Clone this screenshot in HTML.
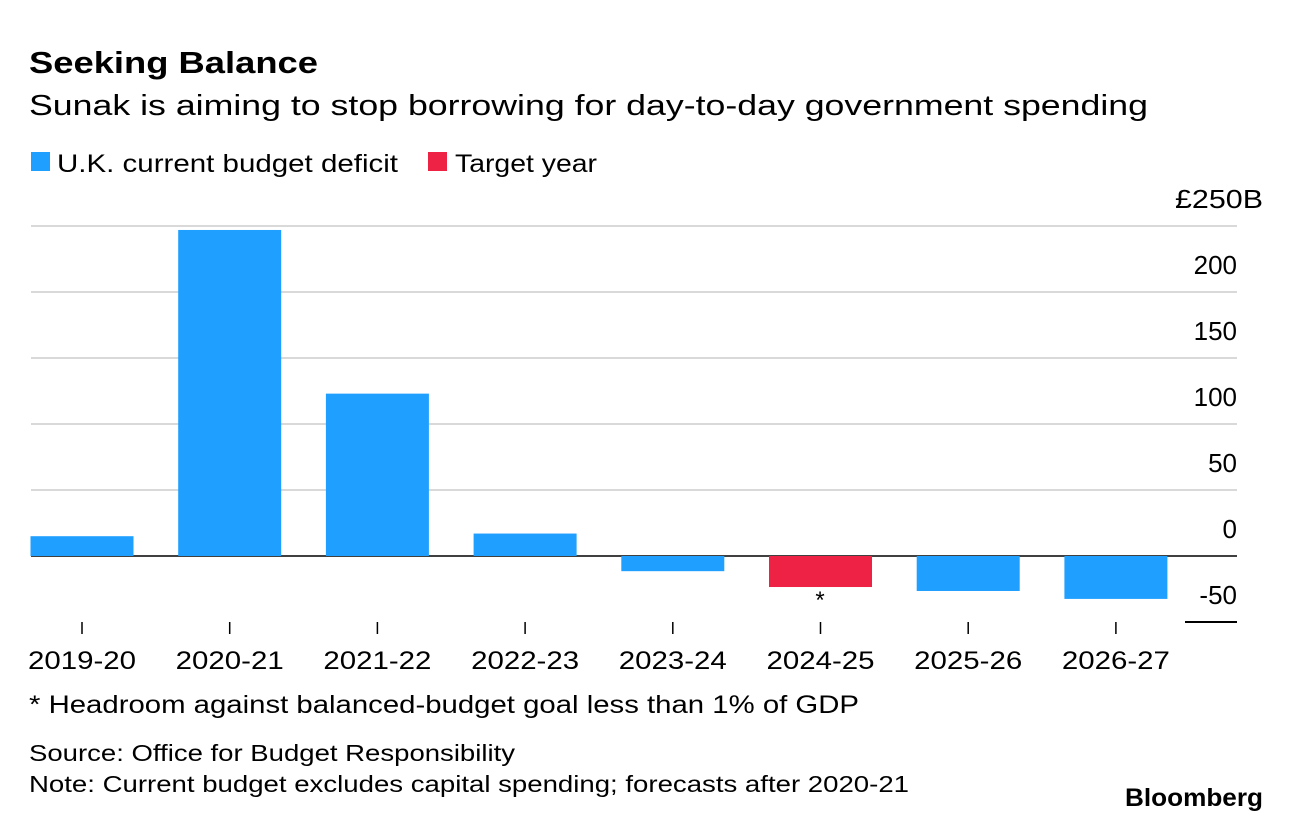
<!DOCTYPE html>
<html><head><meta charset="utf-8"><style>
body{margin:0;background:#fff;font-family:"Liberation Sans",Arial,sans-serif;}
svg text{font-family:"Liberation Sans",Arial,sans-serif;}
</style></head><body>
<svg width="1292" height="822">
<text x="29" y="73" font-size="31" font-weight="bold" fill="#000" textLength="289" lengthAdjust="spacingAndGlyphs">Seeking Balance</text>
<text x="29" y="115" font-size="29" fill="#000" textLength="1119" lengthAdjust="spacingAndGlyphs">Sunak is aiming to stop borrowing for day-to-day government spending</text>
<rect x="31" y="152" width="19" height="19" fill="#1f9fff"/>
<text x="57" y="172" font-size="25" textLength="341" lengthAdjust="spacingAndGlyphs">U.K. current budget deficit</text>
<rect x="428" y="152" width="19" height="19" fill="#ee2244"/>
<text x="455" y="172" font-size="25" textLength="142" lengthAdjust="spacingAndGlyphs">Target year</text>
<g id="grid"></g><g id="bars"></g><g id="xaxis"></g>
<text x="820" y="608" font-size="24" text-anchor="middle">*</text>
<text x="29" y="713" font-size="25" textLength="830" lengthAdjust="spacingAndGlyphs">* Headroom against balanced-budget goal less than 1% of GDP</text>
<text x="29" y="761" font-size="23" textLength="486" lengthAdjust="spacingAndGlyphs">Source: Office for Budget Responsibility</text>
<text x="29" y="792" font-size="23" textLength="880" lengthAdjust="spacingAndGlyphs">Note: Current budget excludes capital spending; forecasts after 2020-21</text>
<text x="1125" y="806" font-size="25" font-weight="bold" textLength="138" lengthAdjust="spacingAndGlyphs">Bloomberg</text>
</svg>
<script>
const categories=["2019-20","2020-21","2021-22","2022-23","2023-24","2024-25","2025-26","2026-27"];
const values=[15,247,123,17,-11.5,-23.5,-26.5,-32.5];
const targetIndex=[5];
const ticks=[250,200,150,100,50,0,-50];
const tickLabels=["£250B","200","150","100","50","0","-50"];
const NS="http://www.w3.org/2000/svg";
const y=v=>556-v*1.32;
const xc=i=>82+i*147.7;
function mk(tag,attrs,parent){const e=document.createElementNS(NS,tag);for(const k in attrs)e.setAttribute(k,attrs[k]);document.getElementById(parent).appendChild(e);return e;}
ticks.forEach((t,i)=>{
  const x1=t===-50?1185:31;
  const l=mk("line",{x1:x1,x2:1237,y1:y(t),y2:y(t),stroke:t===0?"#000":(t===-50?"#000":"#d9d9d9"),"stroke-width":t===0?1.5:2},"grid");
  
  
  const a={x:i===0?1263:1237,y:y(t)-18,"font-size":26,"text-anchor":"end"};
  if(i===0){a.textLength=88;a.lengthAdjust="spacingAndGlyphs";}
  const tx=mk("text",a,"grid");
  tx.textContent=tickLabels[i];
  
  
});
categories.forEach((c,i)=>{
  const v=values[i];
  const r=mk("rect",{x:xc(i)-51.5,width:103,y:Math.min(y(v),y(0)),height:Math.abs(y(v)-y(0)),fill:targetIndex.includes(i)?"#ee2244":"#1f9fff"},"bars");
  
  
  const tk=mk("line",{x1:xc(i),x2:xc(i),y1:622,y2:634,stroke:"#000","stroke-width":1.5},"xaxis");
  
  
  const t=mk("text",{x:xc(i),y:669,"font-size":25,"text-anchor":"middle",textLength:108,lengthAdjust:"spacingAndGlyphs"},"xaxis");
  t.textContent=c;
  
  
});
</script>
</body></html>
